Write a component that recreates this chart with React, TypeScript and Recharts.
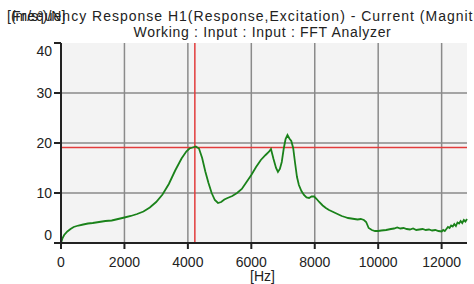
import { LineChart, Line, XAxis, YAxis, CartesianGrid, ReferenceLine } from "recharts";

// frequency axis [Hz]
const freqs = [
  0, 50, 100, 200, 300, 400, 550, 700, 850, 1000, 1200, 1400, 1600, 1800, 2000,
  2200, 2400, 2600, 2800, 3000, 3200, 3400, 3600, 3800, 3950, 4050, 4150, 4250,
  4350, 4450, 4550, 4650, 4750, 4850, 4950, 5050, 5150, 5250, 5400, 5550, 5700,
  5850, 6000, 6150, 6300, 6450, 6550, 6620, 6700, 6780, 6840, 6900, 6960, 7020,
  7080, 7140, 7200, 7260, 7320, 7380, 7440, 7500, 7580, 7660, 7740, 7820, 7900,
  7980, 8060, 8140, 8250, 8350, 8450, 8550, 8650, 8750, 8850, 8950, 9050, 9150,
  9250, 9350, 9450, 9550, 9620, 9700, 9800, 9900, 10000, 10100, 10250, 10400,
  10500, 10600, 10700, 10800, 10900, 11000, 11100, 11200, 11300, 11400, 11500,
  11600, 11700, 11800, 11900, 12000, 12050, 12100, 12150, 12200, 12250, 12300,
  12350, 12400, 12450, 12500, 12550, 12600, 12650, 12700, 12750, 12800,
];

// magnitude [(m/s²)/N]
const magnitude = [
  0.0, 1.0, 1.6, 2.3, 2.8, 3.2, 3.5, 3.7, 3.9, 4.0, 4.2, 4.4, 4.5, 4.8, 5.1,
  5.4, 5.8, 6.3, 7.1, 8.2, 9.7, 11.8, 14.5, 16.9, 18.3, 18.9, 19.1, 19.3,
  18.9, 17.0, 14.3, 12.0, 10.0, 8.6, 8.0, 8.2, 8.7, 9.0, 9.4, 10.0, 10.8,
  12.2, 13.6, 15.2, 16.6, 17.6, 18.2, 18.8, 16.8, 15.0, 14.2, 14.8, 16.2, 18.8,
  20.8, 21.6, 20.9, 20.4, 19.0, 16.0, 13.2, 11.6, 10.4, 9.6, 9.1, 9.0, 9.3,
  9.3, 8.8, 8.2, 7.5, 7.0, 6.6, 6.3, 6.0, 5.7, 5.4, 5.2, 5.0, 4.9,
  4.8, 4.7, 4.8, 4.6, 4.2, 3.0, 2.6, 2.4, 2.4, 2.5, 2.6, 2.8,
  2.9, 3.1, 2.9, 3.0, 2.8, 2.7, 2.9, 2.6, 2.7, 2.8, 2.6,
  2.7, 2.5, 2.6, 2.4, 2.3, 2.6, 2.4, 2.8, 3.2, 3.0, 3.5,
  3.3, 3.8, 3.4, 4.1, 3.9, 4.4, 4.0, 4.6, 4.3, 4.8,
];

const xTicks = [0, 2000, 4000, 6000, 8000, 10000, 12000];
const yTicks = [0, 10, 20, 30, 40];
const cursorHz = 4220;
const cursorValue = 19.1;

const title = "Frequency Response H1(Response,Excitation) - Current (Magnitude)";
const subtitle = "Working : Input : Input : FFT Analyzer";
const yUnit = "[(m/s²)/N]";
const xUnit = "[Hz]";

const data = freqs.map((f, i) => ({ f, v: magnitude[i] }));

const FONT = "'Liberation Sans', Arial, sans-serif";

const YTick = (props: any) => {
  const { x, y, payload } = props;
  // end labels are pulled inside the plot range
  let dy = 0;
  if (payload.value === 40) dy = 8;
  if (payload.value === 0) dy = -8;
  return (
    <text x={x} y={y + dy} dy="0.355em" textAnchor="end" fontSize={14} fill="#222" fontFamily={FONT}>
      {payload.value}
    </text>
  );
};

export default function App() {
  return (
    <div style={{ position: "absolute", left: 0, top: 0, width: 474, height: 284, overflow: "hidden", background: "#fff" }}>
      <LineChart width={474} height={284} data={data} margin={{ top: 43, right: 7, bottom: 0, left: 0 }}>
        <CartesianGrid
          fill="#f3f3f3"
          stroke="#8a8a8a"
          strokeWidth={1.5}
          horizontalValues={[10, 20, 30]}
          verticalValues={[2000, 4000, 6000, 8000, 10000, 12000]}
        />
        <XAxis
          dataKey="f"
          type="number"
          domain={[0, 12800]}
          ticks={xTicks}
          height={41}
          tickSize={6}
          tickMargin={8}
          stroke="#222"
          strokeWidth={2}
          tick={{ fill: "#222", fontSize: 14, fontFamily: FONT }}
          interval={0}
        />
        <YAxis
          type="number"
          domain={[0, 40]}
          ticks={yTicks}
          width={61}
          tickSize={7}
          stroke="#222"
          strokeWidth={2}
          tick={<YTick />}
          interval={0}
        />
        <ReferenceLine y={cursorValue} stroke="#e23c3c" strokeWidth={1.5} />
        <ReferenceLine x={cursorHz} stroke="#e23c3c" strokeWidth={1.5} />
        <Line
          dataKey="v"
          type="linear"
          stroke="#1a821a"
          strokeWidth={1.8}
          dot={false}
          isAnimationActive={false}
        />
      </LineChart>
      <svg width={474} height={284} style={{ position: "absolute", left: 0, top: 0, pointerEvents: "none" }}>
        <text x={12} y={20.5} fontSize={14} letterSpacing={1.0} fill="#222" fontFamily={FONT}>
          {title}
        </text>
        <text x={7} y={20.5} fontSize={14} fill="#222" fontFamily={FONT}>
          {yUnit}
        </text>
        <text x={262.5} y={36.5} fontSize={14} letterSpacing={0.7} textAnchor="middle" fill="#222" fontFamily={FONT}>
          {subtitle}
        </text>
        <text x={262.5} y={281} fontSize={14} textAnchor="middle" fill="#222" fontFamily={FONT}>
          {xUnit}
        </text>
      </svg>
    </div>
  );
}
